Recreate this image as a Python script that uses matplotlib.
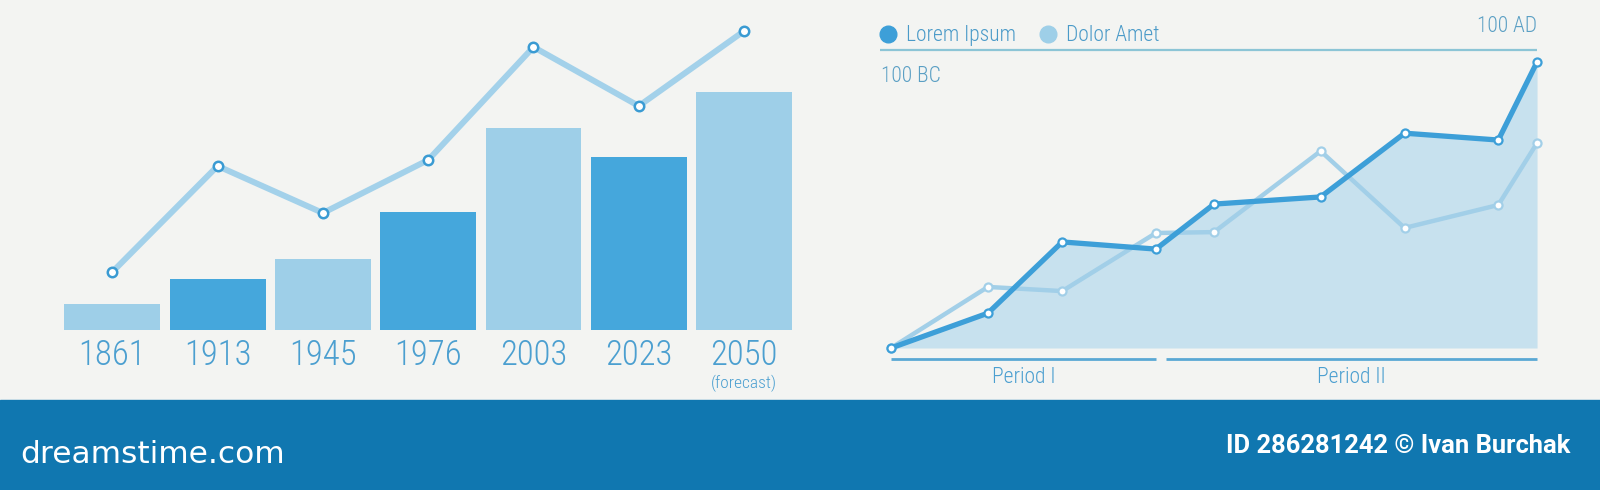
import matplotlib
matplotlib.use('Agg')
import matplotlib.pyplot as plt
from matplotlib import font_manager
from matplotlib.lines import Line2D
from matplotlib.patches import Rectangle

# left chart: bars + line
years = ['1861', '1913', '1945', '1976', '2003', '2023', '2050']
bar_values = [26, 51, 71, 118, 202, 173, 238]
line_values = [58, 164, 117, 170, 283, 224, 299]
bar_shades = ['light', 'dark', 'light', 'dark', 'light', 'dark', 'light']

# right chart: two series over time (-100 = 100 BC, 100 = 100 AD)
time_points = [-100, -70, -47, -18, 0, 33, 59, 88, 100]
lorem_ipsum = [0, 11.7, 35.6, 33.2, 48.3, 50.7, 72.1, 69.8, 96.0]
dolor_amet = [0, 20.5, 19.1, 38.6, 38.9, 66.1, 40.3, 48.0, 68.8]
periods = ['Period I', 'Period II']
period_spans = [(-100, -18), (-15, 100)]

BG = '#f3f4f2'
DARK = '#45a7dc'
LIGHT = '#9ecfe8'
TEXT = '#4b9fd0'
FILL = '#c7e1ee'
BANNER = '#1077b0'


def pick(*names):
    for n in names:
        try:
            font_manager.findfont(font_manager.FontProperties(family=[n]),
                                  fallback_to_default=False)
            return n
        except ValueError:
            pass
    return 'DejaVu Sans'


narrow = pick('Roboto Condensed', 'Liberation Sans Narrow', 'Roboto')
sans = pick('Roboto', 'Liberation Sans', 'DejaVu Sans')

W, H = 1600, 490
fig = plt.figure(figsize=(16, 4.9), dpi=100, facecolor=BG)

# ---- left chart ----
ax = fig.add_axes([54.4 / W, 90 / H, 747.6 / W, 400 / H])
ax.set_xlim(-0.55, 6.55)
ax.set_ylim(-70, 330)
ax.axis('off')

x = range(len(years))
colors = [DARK if s == 'dark' else LIGHT for s in bar_shades]
ax.bar(x, bar_values, width=0.91, color=colors, zorder=1)
ax.plot(x, line_values, color='#a3d1ea', lw=4.3, marker='o', ms=6.8,
        mfc='white', mec='#3a9bd3', mew=1.8, zorder=3, clip_on=False)

for i, yr in enumerate(years):
    ax.text(i, -35, yr, ha='center', va='baseline', fontsize=25,
            color=TEXT, family=narrow, fontweight='light')
ax.text(len(years) - 1, -58, '(forecast)', ha='center', va='baseline',
        fontsize=12.5, color=TEXT, family=narrow, fontweight='light')

# ---- right chart ----
ax2 = fig.add_axes([860 / W, 90 / H, 710 / W, 400 / H])
ax2.set_xlim(-109.6, 110.2)
ax2.set_ylim(-17.45, 116.8)
ax2.axis('off')

ax2.fill_between(time_points, lorem_ipsum, 0, color=FILL, lw=0, zorder=1)
ax2.plot(time_points, dolor_amet, color='#a2cfe8', lw=3.2, marker='o',
         ms=5.8, mfc='white', mec='#a2cfe8', mew=1.6, zorder=3, clip_on=False)
ax2.plot(time_points, lorem_ipsum, color='#3d9fd8', lw=3.8, marker='o',
         ms=5.8, mfc='white', mec='#3d9fd8', mew=1.6, zorder=4, clip_on=False)

# top rule and range labels
ax2.hlines(100, time_points[0] - 3.4, time_points[-1], color='#8cc5d6', lw=1.6)
ax2.text(time_points[-1], 106.2, '100 AD', ha='right', va='baseline',
         fontsize=15.5, color='#5a9fc4', family=narrow, fontweight='light')
ax2.text(time_points[0] - 3.1, 89.3, '100 BC', ha='left', va='baseline',
         fontsize=15.5, color='#5a9fc4', family=narrow, fontweight='light')

# periods
for name, (a, b) in zip(periods, period_spans):
    ax2.hlines(-3.7, a, b, color='#5aa8d4', lw=2)
    ax2.text((a + b) / 2, -11.7, name, ha='center', va='baseline',
             fontsize=15.5, color=TEXT, family=narrow, fontweight='light')

handles = [Line2D([], [], ls='none', marker='o', ms=12, color='#3d9fd8'),
           Line2D([], [], ls='none', marker='o', ms=12, color=LIGHT)]
ax2.legend(handles, ['Lorem Ipsum', 'Dolor Amet'], loc='lower left',
           bbox_to_anchor=(-103.6, 101.3), bbox_transform=ax2.transData,
           ncol=2, frameon=False, borderpad=0, borderaxespad=0,
           handlelength=0.8, handletextpad=0.44, columnspacing=1.1,
           prop={'family': narrow, 'size': 15.5, 'weight': 'light'},
           labelcolor='#4a9ac8')

# ---- bottom banner ----
fig.patches.append(Rectangle((0, 0), 1, 90 / H, transform=fig.transFigure,
                             color=BANNER, zorder=0))
fig.text(20 / W, (H - 463) / H, 'dreamstime.com', color='white',
         fontsize=22.5, family='DejaVu Sans', va='baseline', ha='left')
fig.text(1570 / W, (H - 453) / H, 'ID 286281242 \u00a9 Ivan Burchak',
         color='white', fontsize=18.4, fontweight='bold', family=sans,
         va='baseline', ha='right')

fig.savefig('out.png', dpi=100, facecolor=BG)
